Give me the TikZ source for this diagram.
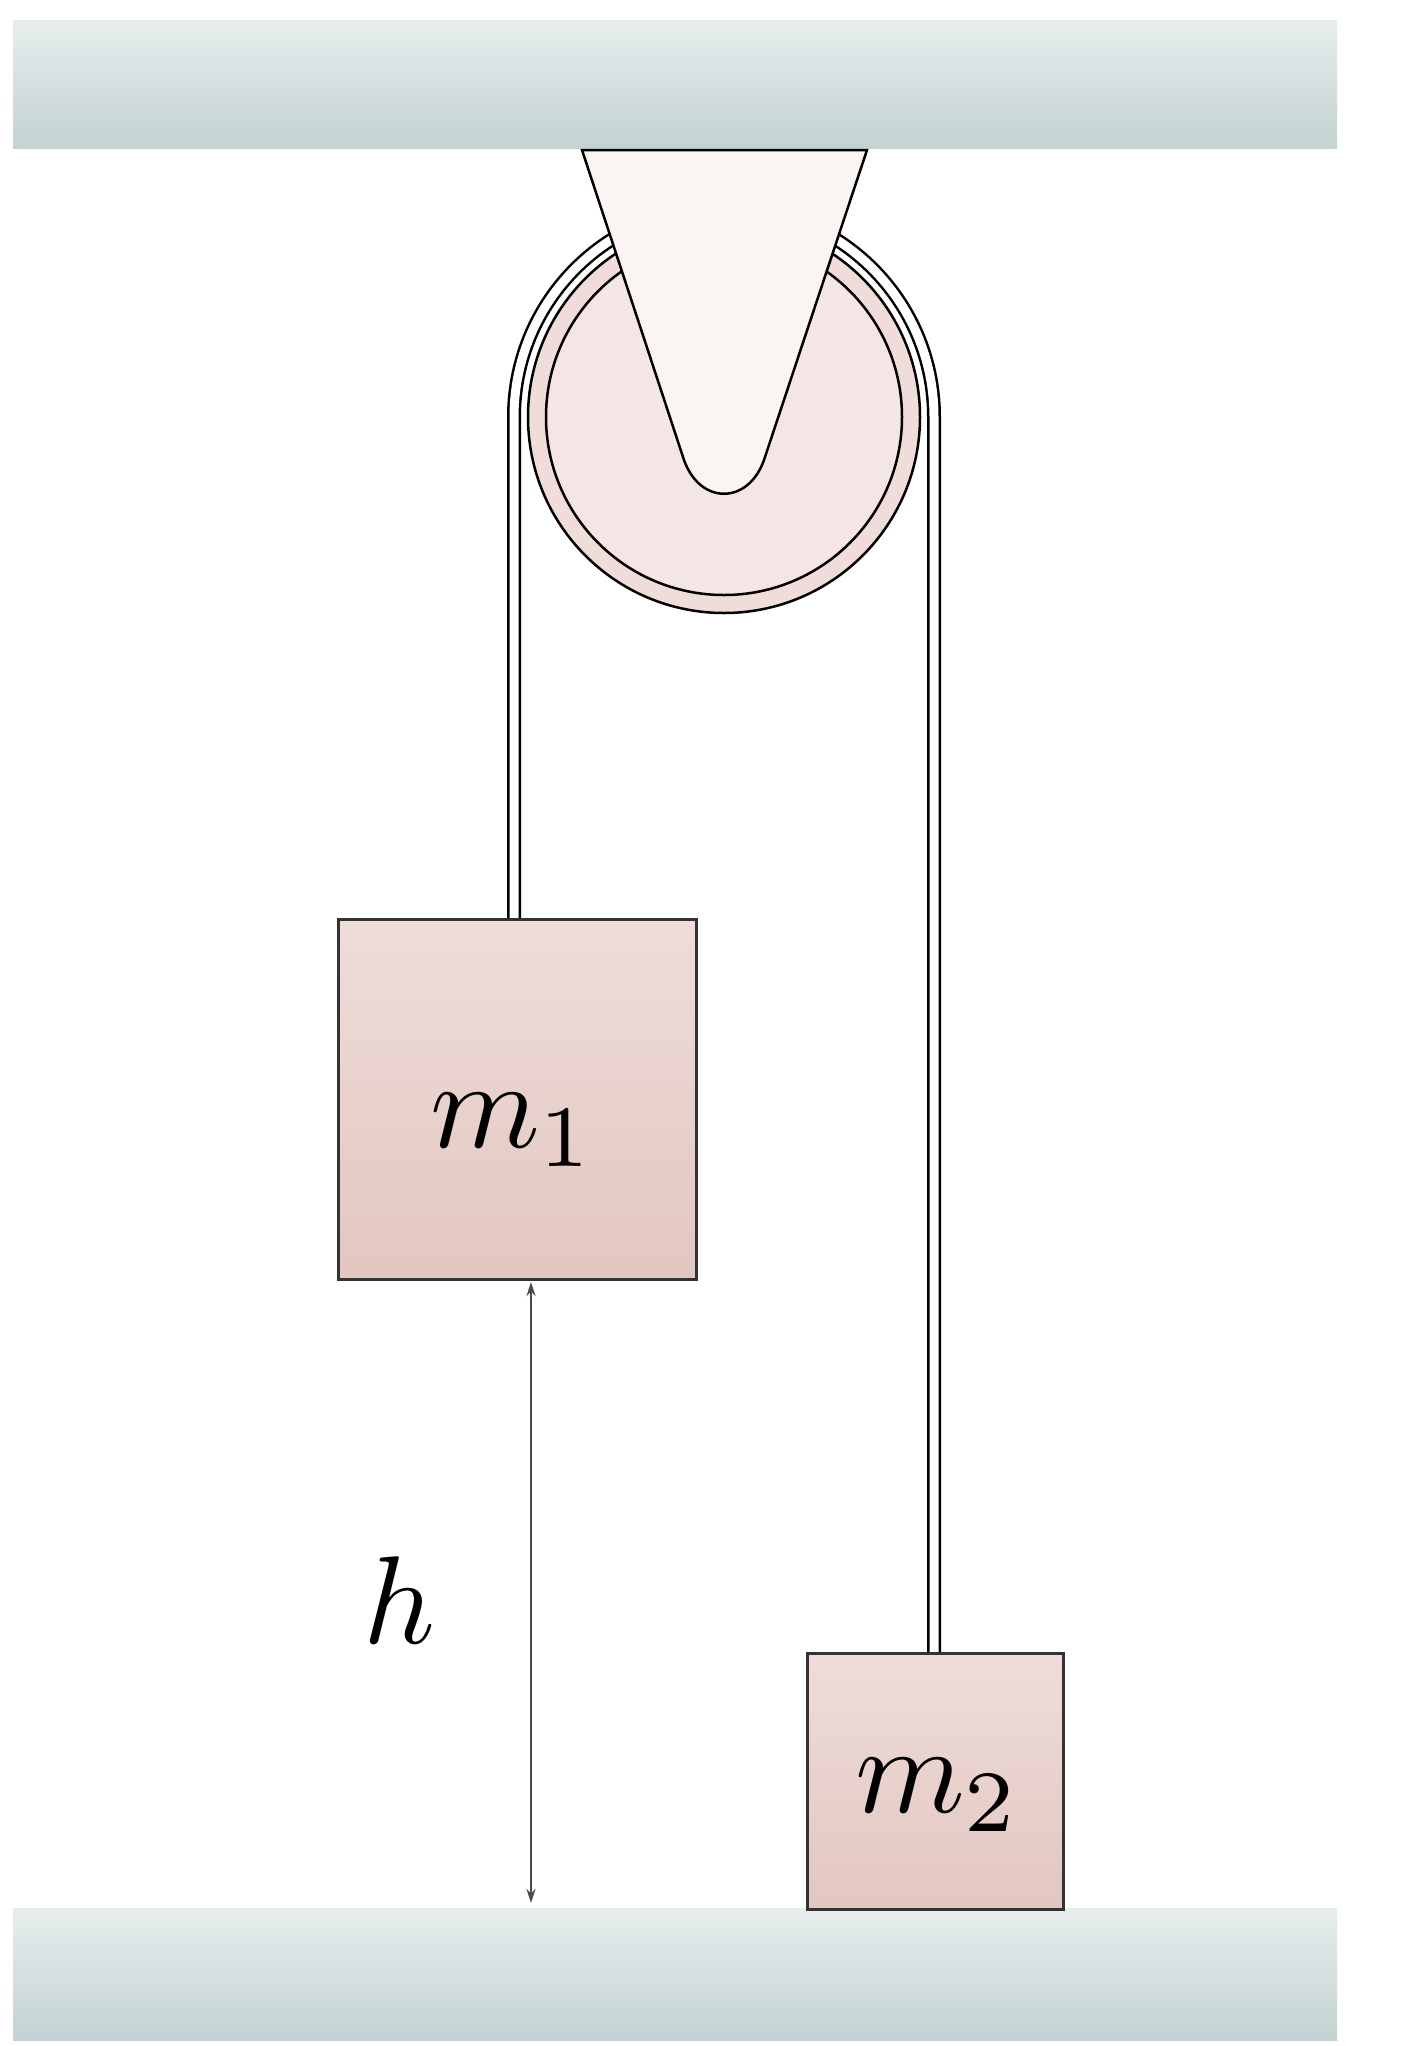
\documentclass[tikz,border=0pt]{standalone}
\usetikzlibrary{arrows.meta}
\begin{document}
\begin{tikzpicture}[x=1pt,y=-1pt,
  bar/.style={top color=white!60!barc, bottom color=barc, draw=none},
  blk/.style={draw=black!80, line width=2.5pt, top color=boxc!60!white, bottom color=boxc},
  lbl/.style={scale=12.5}]
\definecolor{barc}{HTML}{C3D2D2}
\definecolor{boxc}{HTML}{E3C6C0}
\definecolor{discc}{HTML}{F0DCD8}
\useasboundingbox (0,0) rectangle (1416,2046);
\fill[white] (0,0) rectangle (1416,2046);
\shade[bar] (13,20) rectangle (1337,148);
\shade[bar] (13,1908) rectangle (1337,2040);
% pulley
\coordinate (pc) at (724,417);
\draw[black,line width=2.5pt, fill=discc] (pc) circle[radius=196];
\draw[black,line width=2.5pt, fill=discc!70!white] (pc) circle[radius=178];
\draw[black, line width=2.5pt, double=white, double distance=9pt] (514,918) -- (514,417) arc[start angle=180,end angle=360,radius=210] -- (934,1652);
% hanger
\draw[black,line width=2.5pt, fill=discc!30!white] (582,150) -- (867,150) -- (764,460) .. controls (748,505) and (700,505) .. (684,460) -- cycle;
% blocks
\node[blk, minimum width=358, minimum height=360, inner sep=0, anchor=north west] (m1) at (337,918) {};
\node[lbl] at (513,1130) {$m_1$};
\node[blk, minimum width=256, minimum height=256, inner sep=0, anchor=north west] (m2) at (806,1652) {};
\node[lbl] at (938,1795) {$m_2$};
% h arrow
\coordinate (ha) at (531,1282);
\coordinate (hb) at (531,1903);
\draw[black!70, line width=2.5pt, {Stealth[length=14pt,width=9pt]}-{Stealth[length=14pt,width=9pt]}] (ha) -- (hb);
\node[lbl] (h) at (400,1600) {$h$};
\end{tikzpicture}
\end{document}
